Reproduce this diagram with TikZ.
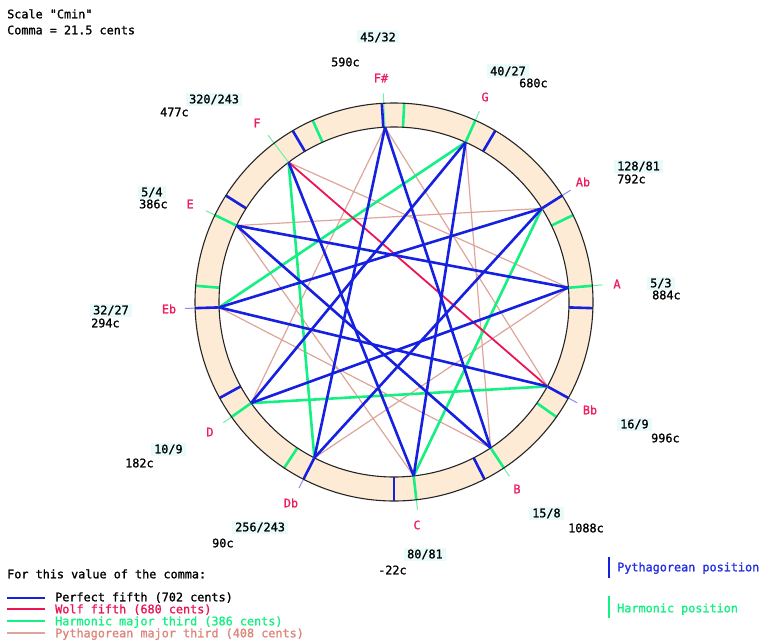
\documentclass[tikz,border=0pt]{standalone}
\usepackage{fontspec}
\setmainfont{DejaVu Sans Mono}[FakeBold=1.2, Ligatures=TeXOff]
\usetikzlibrary{calc}
\definecolor{pblue}{RGB}{22,32,225}
\definecolor{hgreen}{RGB}{20,240,130}
\definecolor{wred}{RGB}{235,20,85}
\definecolor{psalmon}{RGB}{222,165,155}
\definecolor{psalmontext}{RGB}{220,135,125}
\definecolor{ringfill}{RGB}{253,235,214}
\definecolor{boxfill}{RGB}{232,250,250}
\definecolor{notered}{RGB}{238,30,95}
\definecolor{lblue}{RGB}{140,140,245}
\definecolor{lgreen}{RGB}{110,240,165}
\definecolor{txtblue}{RGB}{35,45,225}
\begin{document}
\begin{tikzpicture}[x=1pt,y=-1pt,
  font=\fontsize{11.8}{13}\selectfont,
  txt/.style={inner sep=0pt, text height=8.6pt, text depth=0pt, anchor=west},
  ratio/.style={fill=boxfill, inner xsep=3pt, inner ysep=2.2pt, text height=8.6pt, text depth=0pt, anchor=west},
  notelbl/.style={text=notered, inner sep=0pt, text height=8.6pt, text depth=0pt},
  fifth/.style={pblue, line width=2.6pt},
  wolf/.style={wred, line width=1.8pt},
  hthird/.style={hgreen, line width=2.6pt},
  pthird/.style={psalmon, line width=1.2pt},
  pmark/.style={pblue, line width=2.6pt},
  hmark/.style={hgreen, line width=2.6pt},
  hext/.style={lgreen, line width=1pt},
  pext/.style={lblue, line width=1pt},
  ringline/.style={black!85, line width=1.1pt}
]
\useasboundingbox (0,0) rectangle (768,642);
\fill[white] (0,0) rectangle (768,642);
\coordinate (O) at (394,302);

% note positions
\foreach \n/\c in {C/-21.5, Db/90.2, D/182.4, Eb/294.1, E/386.3, F/476.5, Fs/590.2, G/680.4, Ab/792.2, A/884.4, Bb/996.1, B/1088.3}{
  \coordinate (n\n) at ($(O)+({90+0.3*(\c)}:175)$);
  \coordinate (e\n) at ($(O)+({90+0.3*(\c)}:209)$);
}

% ring
\fill[ringfill, even odd rule] (O) circle (199) (O) circle (175);

% extensions
\foreach \n in {C,D,E,F,Fs,G,A,B}{ \draw[hext] (n\n) -- (e\n); }
\foreach \n in {Db,Eb,Ab,Bb}{ \draw[pext] (n\n) -- (e\n); }

% marks
\foreach \c in {0,90.2,203.9,294.1,407.8,498.0,588.3,702.0,792.2,905.9,996.1,1109.8}{
  \draw[pmark] ($(O)+({90+0.3*(\c)}:175)$) -- ($(O)+({90+0.3*(\c)}:199)$);
}
\foreach \c in {-21.5,111.7,182.4,315.6,386.3,519.6,609.8,680.4,813.7,884.4,1017.6,1088.3}{
  \draw[hmark] ($(O)+({90+0.3*(\c)}:175)$) -- ($(O)+({90+0.3*(\c)}:199)$);
}
\draw[ringline] (O) circle (199);
\draw[ringline] (O) circle (175);

% Pythagorean major thirds
\foreach \a/\b in {C/E, D/Fs, E/Ab, F/A, Fs/Bb, G/B, A/Db, B/Eb}{ \draw[pthird] (n\a) -- (n\b); }
% harmonic major thirds
\foreach \a/\b in {Db/F, Eb/G, Ab/C, Bb/D}{ \draw[hthird] (n\a) -- (n\b); }
% wolf fifth
\draw[wolf] (nBb) -- (nF);
% perfect fifths
\foreach \a/\b in {C/G, Db/Ab, D/A, Eb/Bb, E/B, F/C, Fs/Db, G/D, Ab/Eb, A/E, B/Fs}{ \draw[fifth] (n\a) -- (n\b); }

% header
\node[txt] (title) at (7,14) {Scale "Cmin"};
\node[txt] (comma) at (7,30) {Comma = 21.5 cents};

% note labels
\node[notelbl] (lFs) at (381,78) {F\#};
\node[notelbl] (lG) at (485,97) {G};
\node[notelbl] (lAb) at (583,182) {Ab};
\node[notelbl] (lA) at (617,284) {A};
\node[notelbl] (lBb) at (590,410) {Bb};
\node[notelbl] (lB) at (517,489) {B};
\node[notelbl] (lC) at (417,525) {C};
\node[notelbl] (lDb) at (291,503) {Db};
\node[notelbl] (lD) at (210,432) {D};
\node[notelbl] (lEb) at (169,309) {Eb};
\node[notelbl] (lE) at (190,204) {E};
\node[notelbl] (lF) at (257,123) {F};

% ratios
\node[ratio] (rFs) at (357,37) {45/32};
\node[ratio] (rG) at (487,71) {40/27};
\node[ratio] (rAb) at (614,166) {128/81};
\node[ratio] (rA) at (647,283) {5/3};
\node[ratio] (rBb) at (617,424) {16/9};
\node[ratio] (rB) at (529,513) {15/8};
\node[ratio] (rC) at (404,554) {80/81};
\node[ratio] (rDb) at (232,527) {256/243};
\node[ratio] (rD) at (151,449) {10/9};
\node[ratio] (rEb) at (90,310) {32/27};
\node[ratio] (rE) at (138,192) {5/4};
\node[ratio] (rF) at (186,99) {320/243};

% cents
\node[txt] (cFs) at (331,62) {590c};
\node[txt] (cG) at (519,83) {680c};
\node[txt] (cAb) at (617,179) {792c};
\node[txt] (cA) at (652,295) {884c};
\node[txt] (cBb) at (651,438) {996c};
\node[txt] (cB) at (568,528) {1088c};
\node[txt] (cC) at (378,570) {-22c};
\node[txt] (cDb) at (212,543) {90c};
\node[txt] (cD) at (125,463) {182c};
\node[txt] (cEb) at (91,323) {294c};
\node[txt] (cE) at (139,204) {386c};
\node[txt] (cF) at (160,112) {477c};

% legend
\node[txt] (lgtitle) at (7,574) {For this value of the comma:};
\coordinate (lg1a) at (7,598); \coordinate (lg1b) at (45,598);
\coordinate (lg2a) at (7,609); \coordinate (lg2b) at (45,609);
\coordinate (lg3a) at (7,621); \coordinate (lg3b) at (45,621);
\coordinate (lg4a) at (7,633); \coordinate (lg4b) at (45,633);
\draw[pblue, line width=2.8pt] (lg1a) -- (lg1b);
\draw[wred, line width=1.8pt] (lg2a) -- (lg2b);
\draw[hgreen, line width=2.8pt] (lg3a) -- (lg3b);
\draw[psalmon, line width=1.8pt] (lg4a) -- (lg4b);
\node[txt] (lgt1) at (55,597) {Perfect fifth (702 cents)};
\node[txt, text=wred] (lgt2) at (55,609) {Wolf fifth (680 cents)};
\node[txt, text=hgreen] (lgt3) at (55,621) {Harmonic major third (386 cents)};
\node[txt, text=psalmontext] (lgt4) at (55,633) {Pythagorean major third (408 cents)};

\coordinate (pb1) at (609,557); \coordinate (pb2) at (609,578);
\coordinate (hb1) at (609,596); \coordinate (hb2) at (609,618);
\draw[pblue, line width=2pt] (pb1) -- (pb2);
\draw[hgreen, line width=2pt] (hb1) -- (hb2);
\node[txt, text=txtblue] (ppos) at (617,567) {Pythagorean position};
\node[txt, text=hgreen] (hpos) at (617,608) {Harmonic position};
\end{tikzpicture}
\end{document}
